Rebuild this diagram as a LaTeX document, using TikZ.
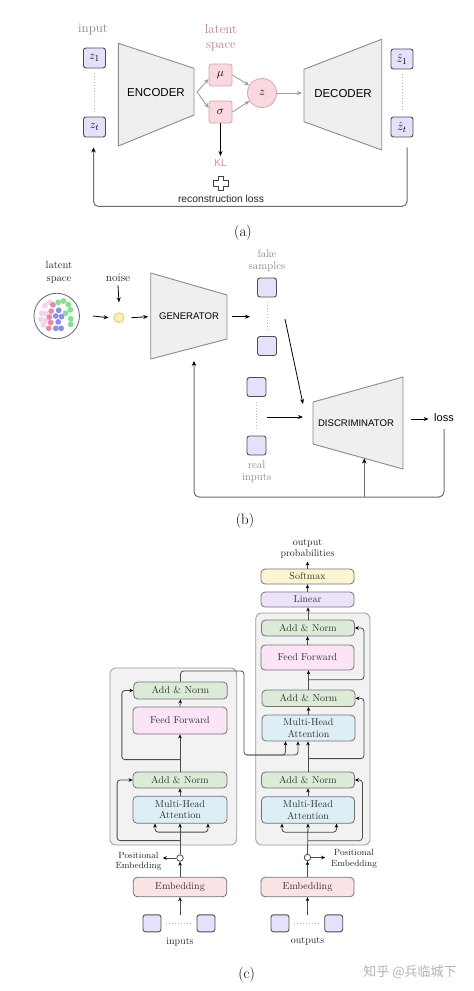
\documentclass[tikz,border=0pt]{standalone}
\usepackage{fontspec}
\setsansfont{Liberation Sans}
\newfontfamily\cjkfont{Noto Sans CJK SC}
\usetikzlibrary{arrows.meta,calc}
\definecolor{boxlav}{HTML}{E4E2FA}
\definecolor{trapfill}{HTML}{EFEFEF}
\definecolor{trapdraw}{HTML}{8A8A8A}
\definecolor{pinkfill}{HTML}{F9D9DF}
\definecolor{pinkdraw}{HTML}{D9A3AB}
\definecolor{inputtxt}{HTML}{8C8299}
\definecolor{latenttxt}{HTML}{B5848B}
\definecolor{kltxt}{HTML}{D48C96}
\definecolor{graytxt}{HTML}{8A8A8A}
\definecolor{greenfill}{HTML}{DCEBD8}
\definecolor{bluefill}{HTML}{DDEEF5}
\definecolor{ffill}{HTML}{FBE4F6}
\definecolor{embfill}{HTML}{FBE2E5}
\definecolor{linfill}{HTML}{ECE3FA}
\definecolor{softfill}{HTML}{FDF5D2}
\definecolor{contfill}{HTML}{F2F2F2}
\definecolor{contdraw}{HTML}{9A9A9A}
\definecolor{noisefill}{HTML}{FBEFB8}
\definecolor{noisedraw}{HTML}{E2C878}
\definecolor{dlpink}{HTML}{F6D3EC}
\definecolor{dpink}{HTML}{E88BA6}
\definecolor{dblue}{HTML}{8C8FE6}
\definecolor{dgreen}{HTML}{86E08F}
\tikzset{
  vecbox/.style={draw=black!70, fill=boxlav, rounded corners=2.5pt, minimum width=22pt, minimum height=20pt, inner sep=0pt, line width=0.9pt, font=\fontsize{13}{14}\selectfont},
  smallvec/.style={draw=black!70, fill=boxlav, rounded corners=2.5pt, minimum width=19pt, minimum height=19pt, inner sep=0pt, line width=0.9pt},
  tinyvec/.style={draw=black!70, fill=boxlav, rounded corners=2.5pt, minimum width=18pt, minimum height=17pt, inner sep=0pt, line width=0.9pt},
  trap/.style={draw=trapdraw, fill=trapfill, line width=0.9pt, line join=round},
  latbox/.style={draw=pinkdraw, fill=pinkfill, rounded corners=2.5pt, minimum width=23pt, minimum height=22pt, inner sep=0pt, line width=0.8pt, font=\fontsize{13}{14}\selectfont},
  ga/.style={draw=gray!75, line width=0.9pt, -{Stealth[length=5pt,width=4.5pt]}},
  ba/.style={draw=black, line width=0.8pt, -{Stealth[length=5pt,width=4pt]}},
  vdots/.style={dotted, draw=gray!60, line width=0.9pt},
  sansa/.style={font=\sffamily\fontsize{11.5}{13}\selectfont},
  sansb/.style={font=\sffamily\fontsize{9.6}{11}\selectfont},
  loopl/.style={draw=gray!85!black, line width=1pt, rounded corners=5pt},
  ltip/.style={-{Stealth[length=5pt,width=4.5pt,color=black]}},
  blk/.style={draw=black!55, rounded corners=4pt, minimum width=93pt, minimum height=16pt, inner sep=0pt, align=center, font=\fontsize{10}{11.7}\selectfont, text=black!80, line width=0.8pt},
  ca/.style={draw=black!70, line width=0.8pt, -{Stealth[length=4pt,width=3.6pt,color=black]}},
  cl/.style={draw=black!70, line width=0.8pt},
  cont/.style={draw=contdraw, fill=contfill, rounded corners=6pt, line width=0.8pt, inner sep=0pt},
  ctxt/.style={font=\fontsize{10}{11}\selectfont, text=black!85, align=center},
}
\begin{document}
\begin{tikzpicture}[x=1pt,y=-1pt]
\fill[white] (0,0) rectangle (474,991);
\path[use as bounding box] (0,0) rectangle (474,991);

%% ================= (a) =================
\node[font=\fontsize{13}{14}\selectfont, text=inputtxt] (inlbl) at (93,30) {input};
\node[font=\fontsize{13}{15}\selectfont, text=latenttxt, align=center] (latlbl) at (221,37.5) {latent\\space};
\node[vecbox] (z1) at (94.5,58) {$z_1$};
\node[vecbox] (zt) at (94.5,127) {$z_t$};
\draw[vdots] ([yshift=-5pt]z1.south) -- ([yshift=5pt]zt.north);

\draw[trap] (118.3,43.3) -- (194,68.3) -- (194,115) -- (118.3,146) -- cycle;
\node[sansa] (enc) at (156,93) {ENCODER};
\coordinate (encout) at (197,92);

\node[latbox] (mu) at (220.5,75) {$\mu$};
\node[latbox] (sig) at (220.5,112) {$\sigma$};
\node[circle, draw=pinkdraw, fill=pinkfill, minimum size=29pt, inner sep=0pt, line width=0.8pt, font=\fontsize{13}{14}\selectfont] (z) at (262,93) {$z$};
\draw[ga] (encout) -- ([yshift=-4pt]mu.west);
\draw[ga] (encout) -- ([yshift=4pt]sig.west);
\draw[ga] (mu.east) -- (z);
\draw[ga] (sig.east) -- (z);

\draw[trap] (304,69.3) -- (381.7,39.3) -- (381.7,150) -- (304,121.7) -- cycle;
\node[sansa] (dec) at (343,94) {DECODER};
\coordinate (decin) at (302,93);
\draw[ga] (z) -- (decin);

\node[vecbox] (zh1) at (402,59) {$\hat z_1$};
\node[vecbox] (zht) at (402,127) {$\hat z_t$};
\draw[vdots] ([yshift=-5pt]zh1.south) -- ([yshift=5pt]zht.north);

\node[font=\sffamily\fontsize{10}{11}\selectfont, text=kltxt] (kl) at (220.5,163) {KL};
\draw[ba] (sig.south) -- (kl.north);
\draw[line width=0.9pt, draw=black!75, line join=miter, shift={(221,183.5)}]
  (-2.7,-7) -- (2.7,-7) -- (2.7,-2.7) -- (7.3,-2.7) -- (7.3,2.7) -- (2.7,2.7) -- (2.7,7) -- (-2.7,7) -- (-2.7,2.7) -- (-7.3,2.7) -- (-7.3,-2.7) -- (-2.7,-2.7) -- cycle;
\node[font=\sffamily\fontsize{10.3}{12}\selectfont, text=black!85] (rl) at (221,199) {reconstruction loss};
\draw[loopl, ltip] ([xshift=5pt,yshift=-10pt]zht.south) |- ([xshift=-1pt,yshift=-69pt]zt.south) -- ([xshift=-1pt,yshift=-10pt]zt.south);

\node[font=\fontsize{15}{16}\selectfont] (la) at (243,233) {(a)};

%% ================= (b) =================
\node[font=\fontsize{10.5}{13}\selectfont, text=black!85, align=center] (lslbl) at (59,272.5) {latent\\space};
\node[circle, draw=gray!80!black, fill=white, minimum size=45.5pt, inner sep=0pt, line width=0.8pt] (ls) at (56.7,316) {};
\begin{scope}[shift={(56.7,316)}, x=22pt, y=-22pt]
  \foreach \a/\b in {-0.53/-0.47,-0.68/-0.13,-0.72/0.15,-0.6/0.4,-0.47/0.2,-0.5/-0.1,-0.32/-0.62}
    \fill[dlpink] (\a,\b) circle (2.9pt);
  \foreach \a/\b in {-0.17/-0.51,-0.25/-0.22,-0.33/0.05,-0.27/0.3,-0.36/0.56}
    \fill[dpink] (\a,\b) circle (2.9pt);
  \foreach \a/\b in {0.09/-0.26,-0.04/0.0,0.22/0.03,0.07/0.27,-0.04/0.56,0.2/0.56}
    \fill[dblue] (\a,\b) circle (2.9pt);
  \foreach \a/\b in {0.07/-0.62,0.31/-0.68,0.53/-0.52,0.62/-0.28,0.4/-0.13,0.64/0.13,0.64/0.38}
    \fill[dgreen] (\a,\b) circle (2.9pt);
\end{scope}

\node[circle, draw=noisedraw, fill=noisefill, minimum size=10pt, inner sep=0pt, line width=0.8pt] (nz) at (119,317.7) {};
\node[font=\fontsize{11.5}{13}\selectfont, text=black!85] (noiselbl) at (118,278) {noise};
\draw[ba] (noiselbl.south) -- ([yshift=10pt]nz.north);
\draw[ba] ([xshift=13pt]ls.east) -- ([xshift=-5pt]nz.west);

\draw[trap] (150.7,273) -- (227,295) -- (227,339) -- (150.7,359) -- cycle;
\node[sansb] (gen) at (189,316) {GENERATOR};
\coordinate (genin) at (150.7,316.7);
\coordinate (genout) at (227,316.7);
\draw[ba] ([xshift=7pt]nz.east) -- ([xshift=-2.5pt]genin);
\draw[ba] ([xshift=5pt]genout) -- ([xshift=23pt]genout);

\node[font=\fontsize{11}{12}\selectfont, text=graytxt, align=center] (fklbl) at (267,261) {fake\\samples};
\node[smallvec] (fk1) at (267,287.5) {};
\node[smallvec] (fk2) at (267,346) {};
\draw[vdots] ([yshift=-5pt]fk1.south) -- ([yshift=5pt]fk2.north);

\draw[trap] (313,402) -- (403,377) -- (403,469) -- (313,444) -- cycle;
\node[sansb] (dsc) at (356,423) {DISCRIMINATOR};
\coordinate (fkout) at (285,319);
\coordinate (dscin1) at (303,404);
\coordinate (dscin2) at (303,417);
\draw[ba] (fkout) -- (dscin1);

\node[smallvec] (r1) at (256.5,387) {};
\node[smallvec] (r2) at (256.5,445.5) {};
\draw[vdots] ([yshift=-5pt]r1.south) -- ([yshift=5pt]r2.north);
\coordinate (rout) at (267,417);
\draw[ba] (rout) -- (dscin2);
\node[font=\fontsize{11}{12}\selectfont, text=graytxt, align=center] (rllbl) at (256.7,472) {real\\inputs};

\node[font=\sffamily\fontsize{11}{12}\selectfont] (loss) at (444,418) {loss};
\coordinate (dscout) at (410.7,419);
\draw[ba] (dscout) -- ([xshift=-2pt]loss.west |- dscout);
\coordinate (lossB) at (444,429);
\coordinate (loopBL) at (194,497);
\coordinate (genB) at (194,361);
\coordinate (dscB) at (364.3,458.5);
\draw[loopl, ltip] (lossB) |- (loopBL) -- (genB);
\draw[loopl, ltip] (dscB |- loopBL) -- (dscB);

\node[font=\fontsize{15}{16}\selectfont] (lb) at (245,521) {(b)};

%% ================= (c) =================
\node[cont, minimum width=126.7pt, minimum height=177pt] (encbox) at (173.3,756.5) {};
\node[cont, minimum width=114.3pt, minimum height=232pt] (decbox) at (312.9,729) {};

\node[ctxt] (outp) at (307.5,548.5) {output\\probabilities};
\node[blk, fill=softfill, minimum height=15pt] (soft) at (307.5,576.5) {Softmax};
\node[blk, fill=linfill, minimum height=15pt] (lin) at (307.5,599.5) {Linear};
\node[blk, fill=greenfill] (dan3) at (308,628) {Add \& Norm};
\node[blk, fill=ffill, minimum height=25pt] (dff) at (307.5,657.5) {Feed Forward};
\node[blk, fill=greenfill, minimum height=16.5pt] (dan2) at (308.5,698.3) {Add \& Norm};
\node[blk, fill=bluefill, minimum height=26pt] (dmha2) at (308.5,728) {Multi-Head\\Attention};
\node[blk, fill=greenfill] (dan1) at (308,780) {Add \& Norm};
\node[blk, fill=bluefill, minimum height=26.5pt] (dmha1) at (308,810) {Multi-Head\\Attention};
\node[blk, fill=embfill, minimum height=19.5pt] (demb) at (307.5,887) {Embedding};

\node[blk, fill=greenfill, minimum height=17pt, minimum width=93.5pt] (ean2) at (180.5,690.5) {Add \& Norm};
\node[blk, fill=ffill, minimum height=27pt, minimum width=94pt] (eff) at (180,720.5) {Feed Forward};
\node[blk, fill=greenfill, minimum width=94pt] (ean1) at (180,780) {Add \& Norm};
\node[blk, fill=bluefill, minimum height=27pt, minimum width=94pt] (emha) at (180,809.7) {Multi-Head\\Attention};
\node[blk, fill=embfill, minimum height=19.5pt, minimum width=93.5pt] (eemb) at (180,887) {Embedding};

% positional embedding
\node[circle, draw=black!70, fill=white, minimum size=6.5pt, inner sep=0pt, line width=0.8pt] (epos) at (180,858) {};
\node[circle, draw=black!70, fill=white, minimum size=6.5pt, inner sep=0pt, line width=0.8pt] (dpos) at (307.5,857.5) {};
\node[font=\fontsize{9}{10.6}\selectfont, text=black!85, align=center] (eptxt) at (138.5,861.3) {Positional\\Embedding};
\node[font=\fontsize{9}{10.6}\selectfont, text=black!85, align=center] (dptxt) at (354,858.6) {Positional\\Embedding};
\draw[ca] (epos) -- ([xshift=-13.5pt]epos.west);
\draw[ca] (dpos) -- ([xshift=14pt]dpos.east);
\draw[ca] (eemb.north) -- (epos.south);
\draw[ca] (demb.north) -- (dpos.south);

% inputs / outputs
\node[tinyvec] (ei1) at (152,923.3) {};
\node[tinyvec] (ei2) at (206,923.3) {};
\node[tinyvec] (di1) at (280,923.3) {};
\node[tinyvec] (di2) at (333.7,923.3) {};
\draw[vdots] ([xshift=5pt]ei1.east) -- ([xshift=-5pt]ei2.west);
\draw[vdots] ([xshift=5pt]di1.east) -- ([xshift=-5pt]di2.west);
\coordinate (einp) at (180,915);
\coordinate (dinp) at (307.5,915);
\draw[ca] (einp) -- (eemb.south);
\draw[ca] (dinp) -- (demb.south);
\node[ctxt] (inlbl2) at (180,941.7) {inputs};
\node[ctxt] (outlbl) at (307.5,941.7) {outputs};

% encoder internal connectors
\draw[ca] (epos.north) -- (emha.south);
\coordinate (esplit) at ([yshift=-8.5pt]emha.south);
\draw[ca, rounded corners=3pt] (esplit) -| ([xshift=-25pt]emha.south);
\draw[ca, rounded corners=3pt] (esplit) -| ([xshift=28pt]emha.south);
\draw[ca, rounded corners=3pt] ([yshift=-17pt]emha.south) -| ([xshift=-15.5pt]ean1.west) -- (ean1.west);
\draw[ca] (emha.north) -- (ean1.south);
\draw[ca] (ean1.north) -- (eff.south);
\draw[ca, rounded corners=3pt] ([yshift=12pt]ean1.north) -| ([xshift=-11.5pt]ean2.west) -- (ean2.west);
\draw[ca] (eff.north) -- (ean2.south);

% encoder output to decoder
\coordinate (eoR) at (244,671);
\coordinate (eoB) at (244,755);
\draw[ca, rounded corners=3pt] (ean2.north) |- (eoR) -- (eoB) -| ([xshift=-23pt]dmha2.south);
\draw[ca, rounded corners=3pt] ([xshift=3pt]eoB) -| ([xshift=-10.5pt]dmha2.south);

% decoder internal connectors
\draw[ca] (dpos.north) -- (dmha1.south);
\coordinate (dsplit) at ([yshift=-8.5pt]dmha1.south);
\draw[ca, rounded corners=3pt] (dsplit) -| ([xshift=-26pt]dmha1.south);
\draw[ca, rounded corners=3pt] (dsplit) -| ([xshift=28.5pt]dmha1.south);
\draw[ca, rounded corners=3pt] ([yshift=-17pt]dmha1.south) -| ([xshift=7.5pt]dan1.east) -- (dan1.east);
\draw[ca] (dmha1.north) -- (dan1.north |- dmha1.north) -- (dan1.south);
\draw[ca] (dan1.north) -- (dan1.north |- dmha2.south);
\draw[ca, rounded corners=3pt] ([yshift=13pt]dan1.north) -| ([xshift=8.5pt]dan2.east) -- (dan2.east);
\draw[ca] (dmha2.north) -- (dan2.south);
\draw[ca] (dan2.north) -- (dan2.north |- dff.south);
\draw[ca, rounded corners=3pt] ([yshift=10pt]dan2.north) -| ([xshift=9pt]dan3.east) -- (dan3.east);
\draw[ca] (dff.north) -- (dff.north |- dan3.south);
\draw[ca] (dan3.north) -- (dan3.north |- lin.south);
\draw[ca] (lin.north) -- (soft.south);
\draw[ca] (soft.north) -- (outp.south);

\node[font=\fontsize{15}{16}\selectfont] (lc) at (246.7,975) {(c)};
\node[font=\cjkfont\fontsize{13}{14}\selectfont, text=black!30] (wm) at (410,972) {知乎 @兵临城下};
\end{tikzpicture}
\end{document}
